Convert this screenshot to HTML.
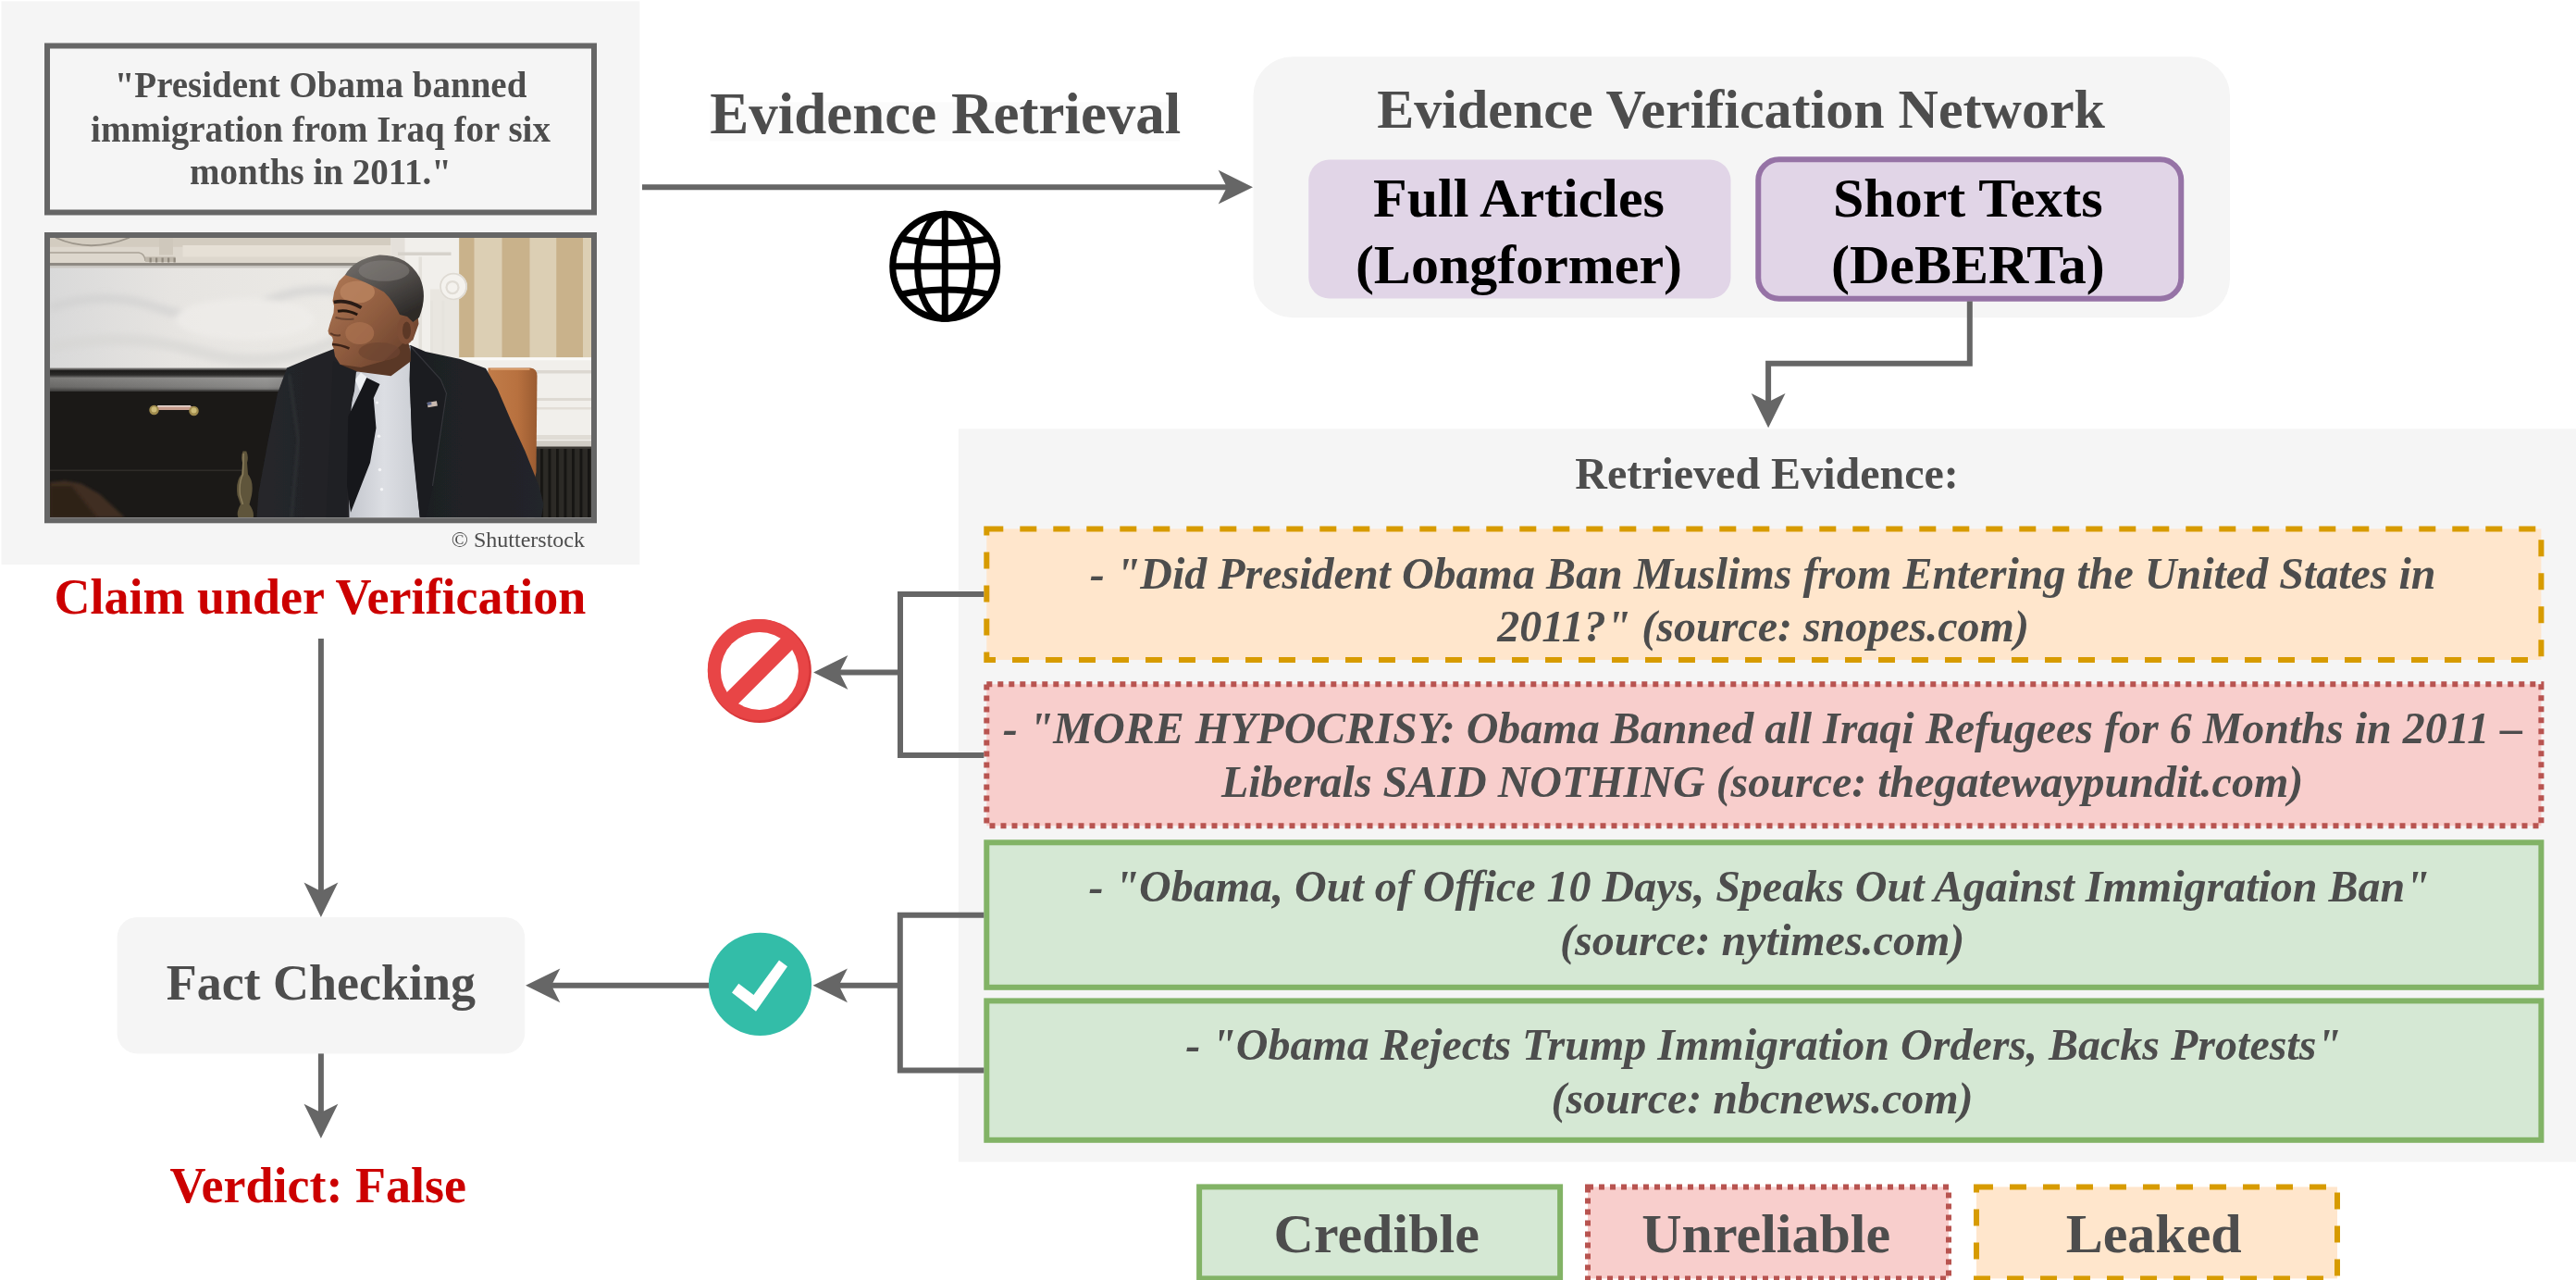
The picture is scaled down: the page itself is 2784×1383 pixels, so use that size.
<!DOCTYPE html><html><head><meta charset="utf-8"><title>Fact checking pipeline</title>
<style>html,body{margin:0;padding:0;background:#fff}body{width:2784px;height:1383px;overflow:hidden}svg{display:block;will-change:transform}text{font-family:"Liberation Serif",serif;white-space:pre}</style></head><body>
<svg width="2784" height="1383" viewBox="0 0 2784 1383">
<rect width="2784" height="1383" fill="#fff"/>
<rect x="1.5" y="1.4" width="689.8" height="608.6" fill="#f5f5f5"/>
<rect x="51" y="49.5" width="591" height="180" fill="#f5f5f5" stroke="#666666" stroke-width="6"/>
<text x="346.5" y="105.0" font-size="39" font-weight="bold" font-style="normal" fill="#4d4d4d" text-anchor="middle">"President Obama banned</text>
<text x="346.5" y="153.0" font-size="39" font-weight="bold" font-style="normal" fill="#4d4d4d" text-anchor="middle">immigration from Iraq for six</text>
<text x="346.5" y="198.8" font-size="39" font-weight="bold" font-style="normal" fill="#4d4d4d" text-anchor="middle">months in 2011."</text>
<defs>
<clipPath id="pc"><rect x="56" y="27" width="2342" height="1210"/></clipPath>
<filter id="b6" x="-10%" y="-10%" width="120%" height="120%"><feGaussianBlur stdDeviation="6"/></filter>
<filter id="b3" x="-10%" y="-10%" width="120%" height="120%"><feGaussianBlur stdDeviation="3"/></filter>
<filter id="b12" x="-20%" y="-20%" width="140%" height="140%"><feGaussianBlur stdDeviation="12"/></filter>
<linearGradient id="gMarble" x1="0" y1="0" x2="1" y2="0"><stop offset="0" stop-color="#d9d9d9"/><stop offset="0.35" stop-color="#e6e4e1"/><stop offset="0.8" stop-color="#ebe9e5"/><stop offset="1" stop-color="#e4e1dc"/></linearGradient>
<linearGradient id="gShelf" x1="0" y1="0" x2="0" y2="1"><stop offset="0" stop-color="#3a3938"/><stop offset="0.12" stop-color="#1d1c1b"/><stop offset="0.28" stop-color="#2c2b2a"/><stop offset="0.42" stop-color="#7b7a78"/><stop offset="0.8" stop-color="#6a6967"/><stop offset="1" stop-color="#3a3938"/></linearGradient><linearGradient id="gShelfH" x1="0" y1="0" x2="1" y2="0"><stop offset="0" stop-color="#fff" stop-opacity="0"/><stop offset="0.85" stop-color="#fff" stop-opacity="0.22"/><stop offset="1" stop-color="#fff" stop-opacity="0.1"/></linearGradient>
<linearGradient id="gChair" x1="0" y1="0" x2="1" y2="0"><stop offset="0" stop-color="#c17c49"/><stop offset="0.6" stop-color="#b8713f"/><stop offset="1" stop-color="#9a5b31"/></linearGradient>
<linearGradient id="gShirt" x1="0" y1="0" x2="1" y2="0"><stop offset="0" stop-color="#c3c6cd"/><stop offset="0.5" stop-color="#dcdee3"/><stop offset="1" stop-color="#c9ccd2"/></linearGradient>
<linearGradient id="gHair" x1="0" y1="0" x2="0.6" y2="1"><stop offset="0" stop-color="#77736f"/><stop offset="0.5" stop-color="#55514e"/><stop offset="1" stop-color="#2d2a28"/></linearGradient>
<linearGradient id="gSkin" x1="0" y1="0" x2="1" y2="1"><stop offset="0" stop-color="#b17a57"/><stop offset="0.5" stop-color="#8e5b3e"/><stop offset="1" stop-color="#5f3a27"/></linearGradient>
<linearGradient id="gSuit" x1="0" y1="0" x2="1" y2="0"><stop offset="0" stop-color="#26272b"/><stop offset="0.5" stop-color="#1d1e22"/><stop offset="1" stop-color="#24252a"/></linearGradient>
<pattern id="rad" width="34" height="10" patternUnits="userSpaceOnUse"><rect width="34" height="10" fill="#2c2a26"/><rect x="0" width="12" height="10" fill="#161513"/></pattern>
</defs>
<g transform="translate(40,250) scale(0.25)" clip-path="url(#pc)">
<rect x="56" y="27" width="2342" height="1210" fill="#e3e1de"/>
<!-- marble mantel -->
<rect x="56" y="150" width="1500" height="450" fill="url(#gMarble)"/>
<g filter="url(#b12)" opacity="0.6">
<path d="M56,330 Q300,250 520,330 T1000,300 T1500,340" stroke="#cfcfcf" stroke-width="40" fill="none"/>
<path d="M56,500 Q400,430 700,520 T1300,470" stroke="#d6d5d3" stroke-width="50" fill="none"/>
<ellipse cx="900" cy="380" rx="300" ry="90" fill="#f1efec"/>
</g>
<!-- cornice -->
<rect x="56" y="27" width="1500" height="118" fill="#ddd7cd"/>
<rect x="56" y="27" width="1500" height="40" fill="#d3ccc0"/>
<rect x="630" y="60" width="920" height="50" fill="#e6e0d6"/>
<path d="M80,27 Q230,95 400,27" fill="none" stroke="#9d968b" stroke-width="7"/>
<path d="M56,92 H440 Q465,95 468,128" fill="none" stroke="#a9a297" stroke-width="6"/>
<rect x="528" y="27" width="60" height="75" fill="#cfc8bc"/>
<rect x="468" y="110" width="130" height="22" fill="#bdb6aa"/>
<g fill="#8f887d"><rect x="486" y="114" width="9" height="20"/><rect x="512" y="114" width="9" height="20"/><rect x="538" y="114" width="9" height="20"/><rect x="564" y="114" width="9" height="20"/><rect x="590" y="114" width="9" height="20"/></g>
<rect x="56" y="136" width="1500" height="12" fill="#8f8a83"/>
<rect x="56" y="148" width="1500" height="10" fill="#c9c6c1"/>
<!-- shelf shadow + firebox -->
<rect x="56" y="690" width="1100" height="547" fill="#1b1917"/>
<rect x="56" y="592" width="1100" height="100" fill="url(#gShelf)"/><rect x="56" y="632" width="1100" height="52" fill="url(#gShelfH)"/>
<rect x="56" y="588" width="1100" height="10" fill="#9a9896" opacity="0.6"/>
<rect x="56" y="1030" width="850" height="6" fill="#2f2c29"/>
<!-- handle -->
<rect x="510" y="756" width="165" height="16" rx="8" fill="#c69c8c"/>
<rect x="520" y="752" width="145" height="6" rx="3" fill="#e9dcd6"/>
<circle cx="506" cy="772" r="21" fill="#a08b4e"/><circle cx="506" cy="770" r="12" fill="#cdbb78"/>
<circle cx="678" cy="776" r="21" fill="#a08b4e"/><circle cx="678" cy="774" r="12" fill="#cdbb78"/>
<!-- andiron -->
<g filter="url(#b3)">
<path d="M890,950 Q880,975 888,1000 L884,1050 Q858,1080 866,1140 L880,1180 Q860,1215 870,1237 L935,1237 Q940,1210 918,1180 L928,1140 Q938,1080 912,1050 L908,1000 Q916,975 905,950 Z" fill="#5f553b"/>
<path d="M893,960 L890,1050 Q872,1085 878,1140 L890,1180" stroke="#8a7d5c" stroke-width="6" fill="none"/>
</g>
<!-- brown object bottom-left -->
<path d="M56,1085 L120,1078 L190,1090 L270,1135 L380,1237 L56,1237 Z" fill="#3f2e20" filter="url(#b6)"/>
<path d="M56,1100 L150,1100 L260,1237 L56,1237 Z" fill="#2e2118" filter="url(#b6)"/>
<!-- pilaster -->
<rect x="1530" y="27" width="300" height="580" fill="#f1efeb"/>
<rect x="1530" y="27" width="60" height="580" fill="#e4e0da"/>
<rect x="1560" y="90" width="230" height="14" fill="#d6d2cb"/>
<rect x="1700" y="250" width="130" height="300" fill="#e9e6e0"/>
<rect x="1650" y="110" width="14" height="440" fill="#e4e1db"/><rect x="1700" y="300" width="12" height="250" fill="#e6e3dd"/><rect x="1750" y="300" width="12" height="250" fill="#e6e3dd"/>
<!-- striped wall -->
<rect x="1825" y="27" width="573" height="525" fill="#dccfb4"/>
<rect x="1825" y="27" width="65" height="525" fill="#c9b28b"/>
<rect x="2010" y="27" width="120" height="525" fill="#c9b28b"/>
<rect x="2245" y="27" width="115" height="525" fill="#c9b28b"/>
<circle cx="1800" cy="238" r="60" fill="#f4f2ee"/><circle cx="1800" cy="238" r="56" fill="none" stroke="#dedad3" stroke-width="7"/><circle cx="1796" cy="242" r="26" fill="none" stroke="#e0dcd5" stroke-width="9"/>
<!-- wainscot -->
<rect x="1825" y="545" width="573" height="390" fill="#f1efeb"/>
<rect x="1825" y="545" width="573" height="12" fill="#faf9f7"/>
<rect x="1825" y="600" width="573" height="14" fill="#dcd8d1"/>
<rect x="2100" y="720" width="298" height="12" fill="#dedad3"/>
<rect x="2100" y="760" width="298" height="10" fill="#e2ded7"/>
<rect x="2100" y="880" width="298" height="20" fill="#e0dcd5"/>
<rect x="2100" y="905" width="298" height="30" fill="#d0ccc5"/>
<!-- radiator -->
<rect x="2150" y="935" width="248" height="302" fill="url(#rad)"/>
<rect x="2150" y="930" width="248" height="10" fill="#3a3733"/>
<!-- chair -->
<path d="M1950,1237 L1950,590 L2132,590 Q2162,592 2162,625 L2158,1040 L2120,1237 Z" fill="url(#gChair)"/>
<path d="M1960,596 L2130,596" stroke="#d79a68" stroke-width="8"/>
<!-- suit -->
<g filter="url(#b3)">
<path d="M950,1237 L958,1130 L1000,900 L1040,700 L1080,590 L1180,548 L1290,505 L1420,560 L1615,492 L1680,520 L1830,552 L1940,592 L1990,680 L2050,820 L2110,950 L2170,1100 L2190,1180 L2180,1237 Z" fill="url(#gSuit)"/>
</g>
<path d="M1090,620 L1130,900 L1100,1237" stroke="#2f3035" stroke-width="10" fill="none" filter="url(#b6)"/>
<!-- shirt -->
<path d="M1375,610 L1615,495 L1612,640 L1620,900 L1640,1100 L1655,1237 L1350,1237 L1345,900 L1360,750 Z" fill="url(#gShirt)"/>
<path d="M1375,640 L1400,610 L1440,640 L1400,700 Z" fill="#eef0f3"/>
<!-- left lapel over shirt -->
<path d="M1280,560 L1380,605 L1372,690 L1345,800 L1338,1237 L1250,1237 Z" fill="#1f2024"/>
<!-- tie -->
<path d="M1425,632 L1482,660 L1455,720 L1466,850 L1440,1000 L1356,1215 L1340,1100 L1345,800 L1398,690 Z" fill="#16171b"/>
<!-- right lapel -->
<path d="M1615,495 L1745,640 L1772,700 L1712,1100 L1680,1237 L1655,1237 L1622,900 L1610,640 Z" fill="#1b1c20"/>
<path d="M1618,500 L1745,640 L1770,700 L1710,1100" stroke="#34353a" stroke-width="5" fill="none"/>
<!-- flag pin -->
<rect x="1688" y="736" width="42" height="22" fill="#c8b9b0" transform="rotate(-10 1709 747)"/>
<rect x="1688" y="736" width="18" height="12" fill="#5a6488" transform="rotate(-10 1709 747)"/>
<!-- shirt buttons -->
<g fill="#f4f5f7"><circle cx="1478" cy="885" r="7"/><circle cx="1482" cy="1030" r="7"/><circle cx="1490" cy="1115" r="7"/><circle cx="1470" cy="740" r="6"/></g>
<!-- neck / face -->
<g filter="url(#b3)">
<path d="M1605,480 L1615,520 L1615,562 L1530,625 L1385,606 L1310,575 L1440,560 L1580,480 Z" fill="#5a3725"/>
<path d="M1332,188 L1305,215 L1285,260 L1278,300 L1284,322 L1282,352 L1266,400 L1258,430 L1262,445 L1276,456 L1280,470 L1275,488 L1282,505 L1288,540 L1310,575 L1400,588 L1500,560 L1580,485 L1625,470 L1650,400 L1640,300 L1560,200 L1440,170 Z" fill="url(#gSkin)"/>
<ellipse cx="1594" cy="428" rx="38" ry="60" fill="#7d4e36"/>
<ellipse cx="1598" cy="428" rx="18" ry="38" fill="#5c3826"/>
<ellipse cx="1385" cy="262" rx="75" ry="48" fill="#b9825e" opacity="0.85"/>
<ellipse cx="1395" cy="440" rx="62" ry="48" fill="#a97250" opacity="0.75"/>
<ellipse cx="1480" cy="520" rx="90" ry="40" fill="#6e4430" opacity="0.7"/>
<path d="M1283,306 Q1340,292 1402,330" stroke="#2a1c16" stroke-width="15" fill="none"/>
<path d="M1300,345 Q1340,336 1385,360" stroke="#241611" stroke-width="12" fill="none"/>
<path d="M1290,372 Q1330,385 1370,378" stroke="#6a4531" stroke-width="8" fill="none"/>
<path d="M1276,488 Q1315,490 1350,506" stroke="#3b2219" stroke-width="10" fill="none"/>
<path d="M1268,440 Q1290,455 1312,448" stroke="#5b3826" stroke-width="8" fill="none"/>
</g>
<!-- hair -->
<g filter="url(#b3)">
<path d="M1332,188 Q1370,120 1480,102 Q1600,100 1655,200 Q1690,280 1652,372 L1625,392 L1600,368 L1568,360 Q1540,300 1500,262 Q1420,215 1332,188 Z" fill="url(#gHair)"/>
<ellipse cx="1500" cy="170" rx="110" ry="45" fill="#837f7b" opacity="0.55"/>
</g>
</g>

<rect x="51" y="254" width="591" height="308.3" fill="none" stroke="#666666" stroke-width="6"/>
<text x="632.0" y="590.6" font-size="24" font-weight="normal" font-style="normal" fill="#4d4d4d" text-anchor="end">© Shutterstock</text>
<text x="345.9" y="663.3" font-size="54" font-weight="bold" font-style="normal" fill="#cc0000" text-anchor="middle">Claim under Verification</text>
<rect x="767" y="110.5" width="508" height="42" fill="#fbfbfb"/>
<text x="1021.8" y="144.3" font-size="63" font-weight="bold" font-style="normal" fill="#4d4d4d" text-anchor="middle">Evidence Retrieval</text>
<line x1="694" y1="202.2" x2="1330" y2="202.2" stroke="#666666" stroke-width="6"/>
<polygon fill="#666666" points="1354.0,202.2 1316.7,220.6 1326.0,202.2 1316.7,183.8"/>
<g transform="translate(1021.25,287.85)" fill="none" stroke="#000" stroke-width="7"><circle r="56.5"/><ellipse rx="29.7" ry="56.5"/><line x1="0" y1="-56.5" x2="0" y2="56.5"/><line x1="-56.5" y1="0" x2="56.5" y2="0"/><path d="M-47.9,-30.3 Q0,-20.2 47.9,-30.3"/><path d="M-47.9,30.3 Q0,20.2 47.9,30.3"/></g>
<rect x="1354.5" y="61.25" width="1055.5" height="282" rx="42.3" fill="#f5f5f5"/>
<text x="1881.6" y="137.6" font-size="60" font-weight="bold" font-style="normal" fill="#4d4d4d" text-anchor="middle">Evidence Verification Network</text>
<rect x="1414.25" y="172.5" width="456.25" height="150" rx="22.5" fill="#e1d5e7"/>
<text x="1641.5" y="233.8" font-size="60" font-weight="bold" font-style="normal" fill="#000" text-anchor="middle">Full Articles</text>
<text x="1641.5" y="306.2" font-size="60" font-weight="bold" font-style="normal" fill="#000" text-anchor="middle">(Longformer)</text>
<rect x="1900.25" y="172.25" width="457" height="150.5" rx="22.5" fill="#e1d5e7" stroke="#9673a6" stroke-width="6"/>
<text x="2126.8" y="233.8" font-size="60" font-weight="bold" font-style="normal" fill="#000" text-anchor="middle">Short Texts</text>
<text x="2126.8" y="306.2" font-size="60" font-weight="bold" font-style="normal" fill="#000" text-anchor="middle">(DeBERTa)</text>
<polyline points="2128.8,325.5 2128.8,392.8 1911.1,392.8 1911.1,440" fill="none" stroke="#666666" stroke-width="6" stroke-linejoin="miter"/>
<polygon fill="#666666" points="1911.1,462.2 1892.7,424.9 1911.1,434.2 1929.5,424.9"/>
<rect x="1035.9" y="463.4" width="1750" height="792" fill="#f5f5f5"/>
<text x="1909.5" y="527.9" font-size="48" font-weight="bold" font-style="normal" fill="#4d4d4d" text-anchor="middle">Retrieved Evidence:</text>
<rect x="1066.3" y="571.4" width="1680.1" height="141.5" fill="#ffe6cc" stroke="#d79b00" stroke-width="6" stroke-dasharray="18 18"/>
<rect x="1066.3" y="739.3" width="1680.1" height="153" fill="#f8cecc" stroke="#b85450" stroke-width="6" stroke-dasharray="6 6"/>
<rect x="1066.3" y="910.3" width="1680.1" height="156.5" fill="#d5e8d4" stroke="#82b366" stroke-width="6"/>
<rect x="1066.3" y="1081.4" width="1680.1" height="150.4" fill="#d5e8d4" stroke="#82b366" stroke-width="6"/>
<text x="1905.1" y="635.7" font-size="48" font-weight="bold" font-style="italic" fill="#4d4d4d" text-anchor="middle">- "Did President Obama Ban Muslims from Entering the United States in</text>
<text x="1905.6" y="693.3" font-size="48" font-weight="bold" font-style="italic" fill="#4d4d4d" text-anchor="middle">2011?" (source: snopes.com)</text>
<text x="1904.9" y="803.1" font-size="48" font-weight="bold" font-style="italic" fill="#4d4d4d" text-anchor="middle">- "MORE HYPOCRISY: Obama Banned all Iraqi Refugees for 6 Months in 2011 –</text>
<text x="1904.6" y="860.7" font-size="48" font-weight="bold" font-style="italic" fill="#4d4d4d" text-anchor="middle">Liberals SAID NOTHING (source: thegatewaypundit.com)</text>
<text x="1901.2" y="974.2" font-size="48" font-weight="bold" font-style="italic" fill="#4d4d4d" text-anchor="middle">- "Obama, Out of Office 10 Days, Speaks Out Against Immigration Ban"</text>
<text x="1904.6" y="1031.8" font-size="48" font-weight="bold" font-style="italic" fill="#4d4d4d" text-anchor="middle">(source: nytimes.com)</text>
<text x="1905.6" y="1145.2" font-size="48" font-weight="bold" font-style="italic" fill="#4d4d4d" text-anchor="middle">- "Obama Rejects Trump Immigration Orders, Backs Protests"</text>
<text x="1904.6" y="1202.8" font-size="48" font-weight="bold" font-style="italic" fill="#4d4d4d" text-anchor="middle">(source: nbcnews.com)</text>
<polyline points="1063.3,642.1 973,642.1 973,815.9 1063.3,815.9" fill="none" stroke="#666666" stroke-width="6"/>
<line x1="973" y1="726.5" x2="900" y2="726.5" stroke="#666666" stroke-width="6"/>
<polygon fill="#666666" points="879.1,726.5 916.4,708.1 907.1,726.5 916.4,744.9"/>
<polyline points="1063.3,988.7 972.8,988.7 972.8,1156.4 1063.3,1156.4" fill="none" stroke="#666666" stroke-width="6"/>
<line x1="972.8" y1="1064.8" x2="900" y2="1064.8" stroke="#666666" stroke-width="6"/>
<polygon fill="#666666" points="878.6,1064.8 915.9,1046.4 906.6,1064.8 915.9,1083.2"/>
<line x1="770" y1="1064.8" x2="590" y2="1064.8" stroke="#666666" stroke-width="6"/>
<polygon fill="#666666" points="568.0,1064.8 605.3,1046.4 596.0,1064.8 605.3,1083.2"/>
<g transform="translate(820.9,725)"><circle r="56" fill="#d8383a"/><circle cx="-1.3" cy="-1.3" r="54.8" fill="#e84546"/><circle r="42" fill="#fff"/><rect x="-50" y="-8.8" width="100" height="17.6" fill="#e84546" transform="rotate(-45)"/></g>
<circle cx="821.5" cy="1063.3" r="55.6" fill="#33bda8"/>
<polygon fill="#fff" points="798.3,1062.7 791,1072.6 817,1092.7 851,1044.3 842,1037.6 814.5,1075.1"/>
<line x1="346.9" y1="690" x2="346.9" y2="968" stroke="#666666" stroke-width="6"/>
<polygon fill="#666666" points="346.9,990.9 328.5,953.6 346.9,962.9 365.3,953.6"/>
<rect x="126.6" y="990.9" width="440.6" height="147.5" rx="22" fill="#f5f5f5"/>
<text x="346.9" y="1080.0" font-size="54" font-weight="bold" font-style="normal" fill="#4d4d4d" text-anchor="middle">Fact Checking</text>
<line x1="346.9" y1="1138.4" x2="346.9" y2="1208" stroke="#666666" stroke-width="6"/>
<polygon fill="#666666" points="346.9,1230.0 328.5,1192.7 346.9,1202.0 365.3,1192.7"/>
<text x="343.8" y="1299.4" font-size="54" font-weight="bold" font-style="normal" fill="#cc0000" text-anchor="middle">Verdict: False</text>
<rect x="1296.1" y="1282.4" width="390" height="99" fill="#d5e8d4" stroke="#82b366" stroke-width="6"/>
<rect x="1716" y="1282.4" width="390" height="99" fill="#f8cecc" stroke="#b85450" stroke-width="6" stroke-dasharray="6 6"/>
<rect x="2136" y="1282.4" width="390" height="99" fill="#ffe6cc" stroke="#d79b00" stroke-width="6" stroke-dasharray="18 18"/>
<text x="1487.7" y="1352.5" font-size="60" font-weight="bold" font-style="normal" fill="#4d4d4d" text-anchor="middle">Credible</text>
<text x="1908.7" y="1352.5" font-size="60" font-weight="bold" font-style="normal" fill="#4d4d4d" text-anchor="middle">Unreliable</text>
<text x="2327.7" y="1352.5" font-size="60" font-weight="bold" font-style="normal" fill="#4d4d4d" text-anchor="middle">Leaked</text>
</svg></body></html>
